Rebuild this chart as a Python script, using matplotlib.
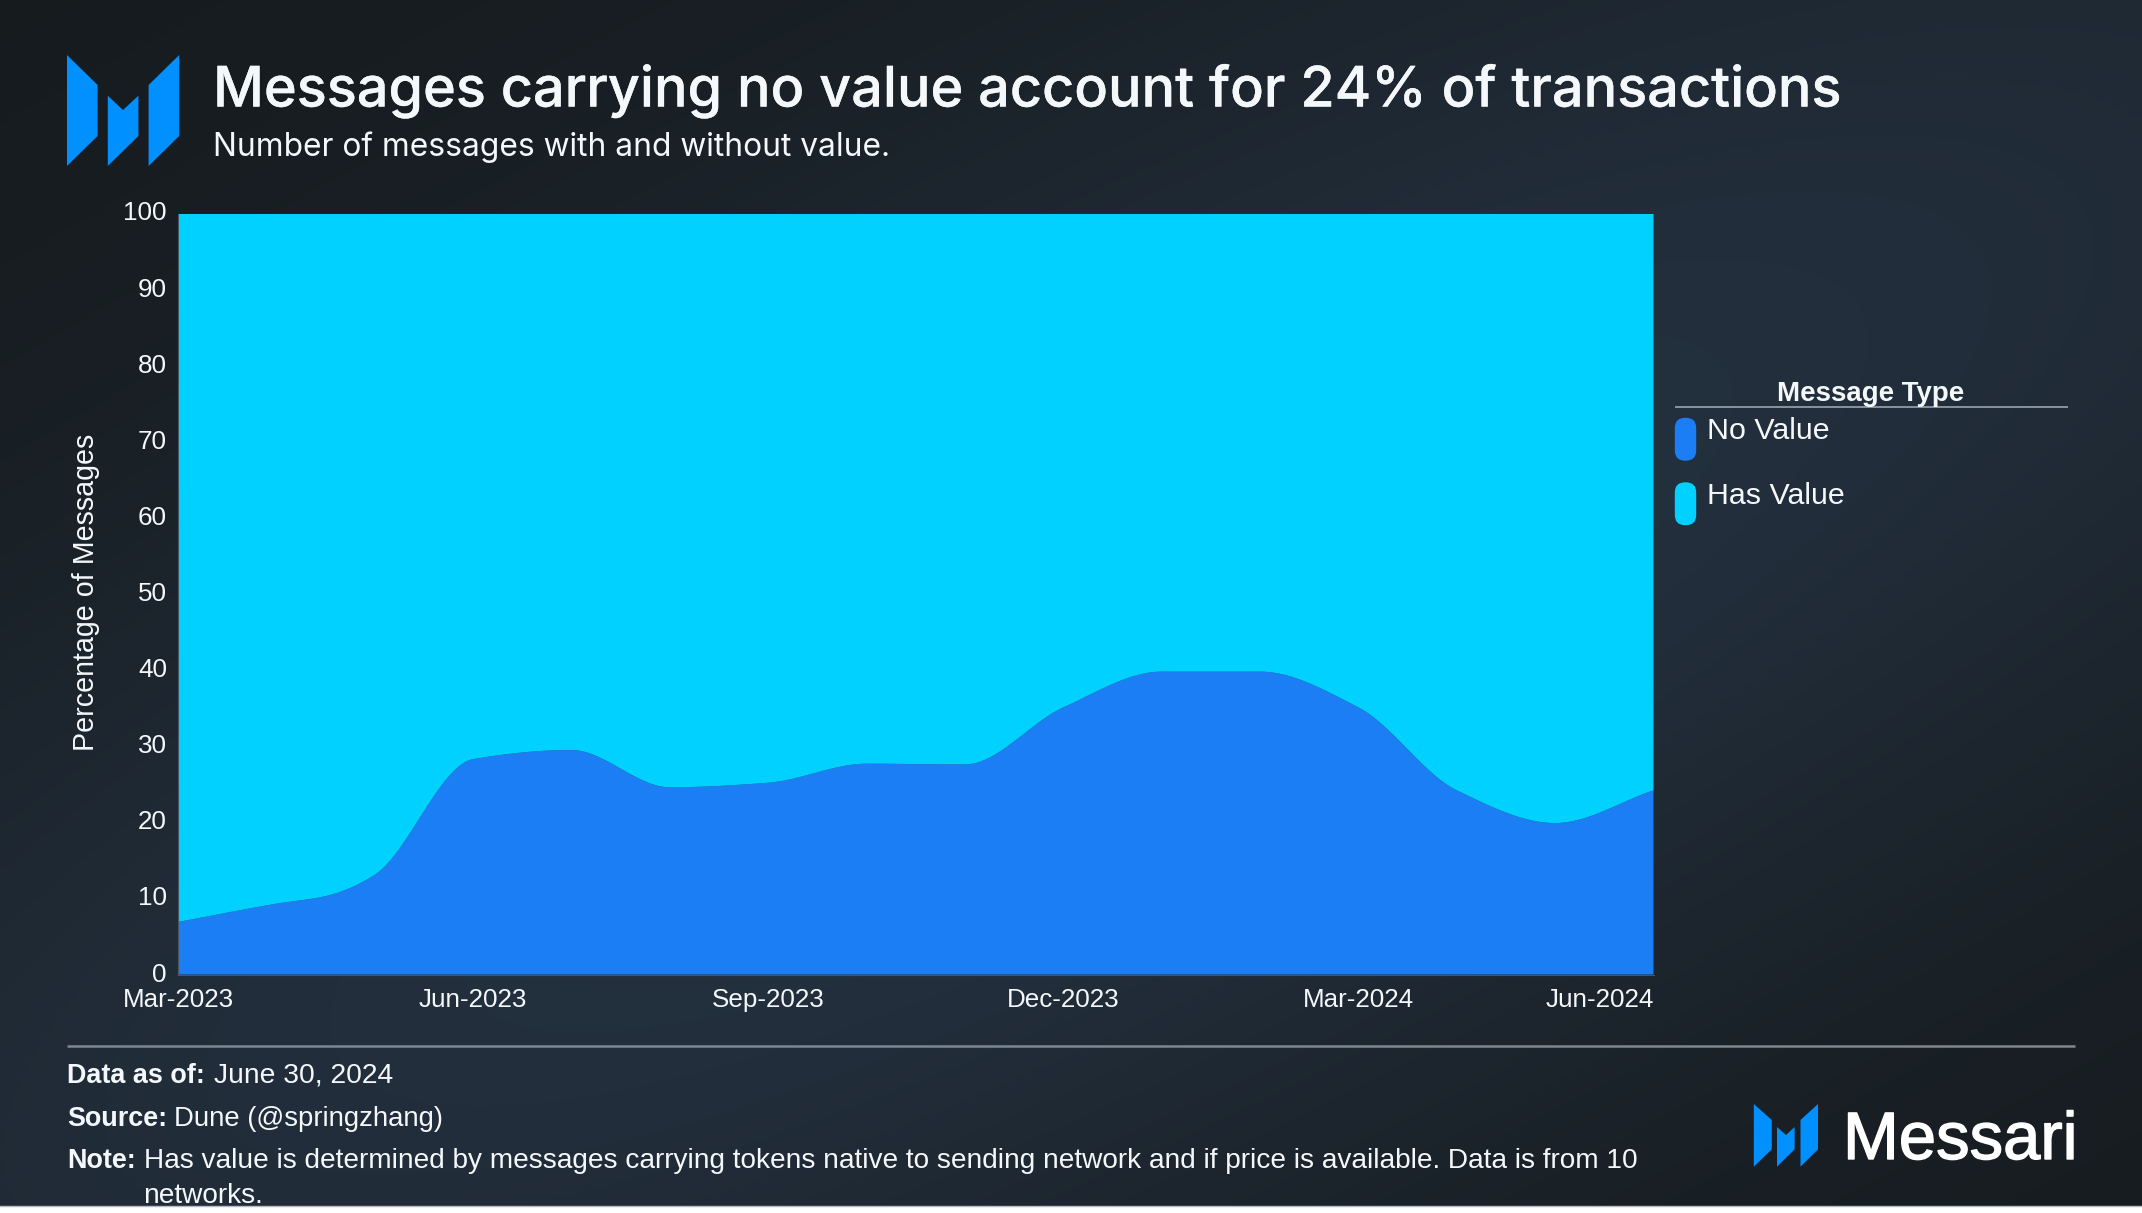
import numpy as np
import pandas as pd
import matplotlib
matplotlib.use("Agg")
import matplotlib.pyplot as plt
from matplotlib.patches import Polygon, FancyBboxPatch
from matplotlib.colors import LinearSegmentedColormap
from matplotlib.transforms import ScaledTranslation
import matplotlib.patheffects as pe

W, H = 2142, 1213

# Data (share of messages, %)
dates = ["2023-03-01", "2023-04-01", "2023-04-16", "2023-05-01", "2023-06-01", "2023-07-01", "2023-08-01",
         "2023-09-01", "2023-10-01", "2023-11-01", "2023-12-01", "2024-01-01", "2024-02-01", "2024-03-01",
         "2024-04-01", "2024-05-01", "2024-06-01"]
no_value = [6.9, 9.3, 10.3, 13.1, 28.3, 29.5, 24.6, 25.2, 27.7, 27.6, 35.1, 39.8, 39.8, 35.1, 24.2, 19.9, 24.2]
has_value = [93.1, 90.7, 89.7, 86.9, 71.7, 70.5, 75.4, 74.8, 72.3, 72.4, 64.9, 60.2, 60.2, 64.9, 75.8, 80.1, 75.8]
tick_dates = ["2023-03-01", "2023-06-01", "2023-09-01", "2023-12-01", "2024-03-01", "2024-06-01"]
y_ticks = [0, 10, 20, 30, 40, 50, 60, 70, 80, 90, 100]
legend_names = ["No Value", "Has Value"]

C_NO = "#1b7ef5"
C_HAS = "#00d1ff"
C_LOGO = "#0090ff"
C_TEXT = "#f4f8fb"
plt.rcParams["font.family"] = ["Liberation Sans", "DejaVu Sans"]


def px(size):  # font size in pixels -> points at dpi 100
    return size * 0.72


def month_axis(values):  # dates -> months since the first sample (each month the same width, as in the chart)
    d = pd.to_datetime(values)
    return np.array((d.year - 2023) * 12 + d.month - 3 + (d.day - 1) / 30, dtype=float)


def monotone_curve(x, y, n=40):  # same kind of smoothing as the chart's area edge (monotone cubic)
    x, y = np.asarray(x, float), np.asarray(y, float)
    h = np.diff(x)
    d = np.diff(y) / h
    m = np.zeros_like(y)
    m[0], m[-1] = d[0], d[-1]
    for i in range(1, len(y) - 1):
        m[i] = 0 if d[i - 1] * d[i] <= 0 else 2 * d[i - 1] * d[i] / (d[i - 1] + d[i])
    xs, ys = [], []
    for i in range(len(h)):
        t = np.linspace(0, 1, n, endpoint=False)
        ys.append((2*t**3 - 3*t**2 + 1) * y[i] + (t**3 - 2*t**2 + t) * h[i] * m[i]
                  + (-2*t**3 + 3*t**2) * y[i + 1] + (t**3 - t**2) * h[i] * m[i + 1])
        xs.append(x[i] + t * h[i])
    return np.append(np.concatenate(xs), x[-1]), np.append(np.concatenate(ys), y[-1])


fig = plt.figure(figsize=(W / 100, H / 100), dpi=100)

# Full figure layer in pixel coordinates: background, logos, texts
bg = fig.add_axes([0, 0, 1, 1], zorder=0)
yy, xx = np.mgrid[0:1:200j, 0:1:300j]
across = (xx - 0.16) * 0.971 + (yy - 0.906)  # distance from the light diagonal band
along = (xx - 0.5) + (0.55 - yy)
band = np.exp(-(across / 0.55) ** 2) * (1 - 0.3 * along ** 2)
cmap = LinearSegmentedColormap.from_list("bg", ["#161b1e", "#243140"])
bg.imshow(band, extent=(0, W, H, 0), cmap=cmap, aspect="auto", interpolation="bilinear", vmin=0, vmax=1)
bg.set_xlim(0, W)
bg.set_ylim(H, 0)
bg.axis("off")
bg.fill_between([0, W], 1206, H, color="#ffffff", lw=0, zorder=5)
bg.plot([0, W], [1206, 1206], color="#b5bbc1", lw=1, zorder=6)


def logo(x0, x1, x2, x3, x4, x5, xn, ytop, yshoulder, ymid, yn, ylow, ybot):
    bg.add_patch(Polygon([(x0, ytop), (x1, yshoulder), (x1, ylow), (x0, ybot)], color=C_LOGO, lw=0))
    bg.add_patch(Polygon([(x2, ymid), (xn, yn), (x3, ymid), (x3, ylow), (x2, ybot)], color=C_LOGO, lw=0))
    bg.add_patch(Polygon([(x5, ytop), (x4, yshoulder), (x4, ybot), (x5, ylow)], color=C_LOGO, lw=0))


logo(67, 97.6, 107.8, 138.4, 148.6, 179.2, 123, 55, 85, 95.7, 110, 136, 166)
logo(1753.8, 1771.8, 1777, 1794.6, 1800.5, 1818, 1786, 1104, 1120, 1127, 1135, 1149.3, 1166.7)


def label(x, y, s, size, weight="normal", ha="left", color=C_TEXT, stroke=0, **kw):
    t = bg.text(x, y, s, fontsize=px(size), fontweight=weight, ha=ha, va="baseline", color=color, **kw)
    if stroke:
        t.set_path_effects([pe.withStroke(linewidth=stroke, foreground=color)])
    return t


label(213, 106.5, "Messages carrying no value account for 24% of transactions", 55.8, weight=500, family="Inter", stroke=0.2)
label(213, 156, "Number of messages with and without value.", 31.7, family="Inter")

# Legend
label(1871, 401, "Message Type", 27.6, weight="bold", ha="center")
bg.plot([1675, 2068], [407, 407], color="#8b929a", lw=1.4, solid_capstyle="butt")
for name, c, y0 in zip(legend_names, [C_NO, C_HAS], [418, 482.5]):
    bg.add_patch(FancyBboxPatch((1675 + 10, y0 + 10), 1, 22.5, boxstyle="round,pad=10.2,rounding_size=10.2",
                                fc=c, ec="none"))
    label(1707, y0 + 21, name, 30.4)

# Footer
bg.plot([67, 2075], [1045.7, 1045.7], color="#7f868e", lw=1.8, solid_capstyle="butt")
label(67, 1083, "Data as of:", 27, weight="bold")
label(213.5, 1083, "June 30, 2024", 28.3)
label(67, 1125.5, "Source:", 27, weight="bold")
label(174, 1125.5, "Dune (@springzhang)", 27.5)
label(67, 1168, "Note:", 27, weight="bold")
label(143.5, 1168, "Has value is determined by messages carrying tokens native to sending network and if price is available. Data is from 10", 28)
label(143.5, 1203, "networks.", 28)
label(1843, 1159, "Messari", 67, color="#ffffff", stroke=1.0)

# y axis title
bg.text(86, 592, "Percentage of Messages", rotation=90, ha="center", va="center", fontsize=px(28.6), color=C_TEXT)

# Chart
ax = fig.add_axes([178 / W, 1 - 974.5 / H, (1653.5 - 178) / W, (974.5 - 213.5) / H], zorder=1)
ax.patch.set_alpha(0)
x_pos = month_axis(dates)
x_s, y_no = monotone_curve(x_pos, no_value)
x_s, y_has = monotone_curve(x_pos, has_value)
ax.stackplot(x_s, y_no, y_has, colors=[C_NO, C_HAS], lw=0)
ax.set_xlim(x_pos[0], x_pos[-1])
ax.set_ylim(0, 100)
ax.set_yticks(y_ticks)
ax.set_xticks(month_axis(tick_dates))
ax.set_xticklabels(pd.to_datetime(tick_dates).strftime("%b-%Y"))
ax.get_xticklabels()[-1].set_ha("right")
ax.tick_params(length=0, colors=C_TEXT, labelsize=px(26), pad=8)
ax.tick_params(axis="x", pad=9.5)
for lab in ax.get_yticklabels():
    lab.set_transform(lab.get_transform() + ScaledTranslation(0, 2.5 / 100, fig.dpi_scale_trans))
for s in ["top", "right"]:
    ax.spines[s].set_visible(False)
for s in ["left", "bottom"]:
    ax.spines[s].set_color("#4a5563")
    ax.spines[s].set_linewidth(0.8)

fig.savefig("out.png", dpi=100)
